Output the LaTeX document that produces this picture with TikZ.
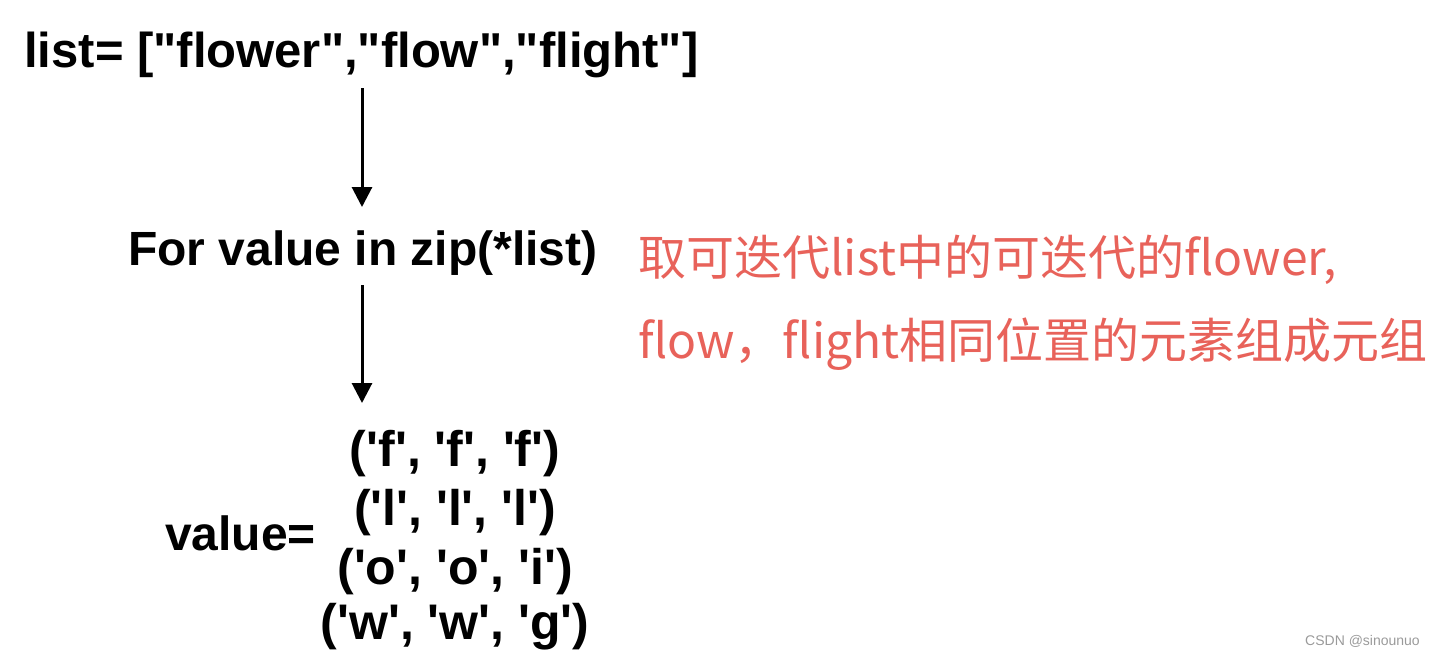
\documentclass[tikz,border=0pt]{standalone}
\usepackage{fontspec}
\setmainfont{Liberation Sans}[Ligatures=TeXOff]
\newfontfamily\cjk{Noto Sans CJK SC}
\usetikzlibrary{arrows.meta}
\definecolor{notered}{HTML}{E8625A}
\definecolor{wmgray}{HTML}{9A9A9A}
\newcommand{\dq}{\char34 }
\newcommand{\sq}{\char39 }
\tikzset{
  code/.style={inner sep=0pt, font=\fontsize{48}{58}\selectfont\bfseries, text=black},
  tuple/.style={code, anchor=base, font=\fontsize{50}{60}\selectfont\bfseries},
  note/.style={inner sep=0pt, anchor=base west, font=\cjk\fontsize{48}{58}\selectfont, text=notered},
  flow/.style={line width=3pt, -{Triangle[length=20pt,width=20pt]}},
}
\begin{document}
\begin{tikzpicture}[x=1pt,y=-1pt]
\useasboundingbox (0,0) rectangle (1434,656);
\node[code, anchor=base west, font=\fontsize{49}{58}\selectfont\bfseries] (lst) at (24,67) {list= [\dq flower\dq,\dq flow\dq,\dq flight\dq]};
\node[code, anchor=base west] (for) at (128,265) {For value in zip(*list)};
\node[code, anchor=base west] (val) at (165,550) {value=};
\node[tuple] (t1) at (455,466) {(\sq f\sq, \sq f\sq, \sq f\sq)};
\node[tuple] (t2) at (455,525) {(\sq l\sq, \sq l\sq, \sq l\sq)};
\node[tuple] (t3) at (455,584) {(\sq o\sq, \sq o\sq, \sq i\sq)};
\node[tuple] (t4) at (455,639) {(\sq w\sq, \sq w\sq, \sq g\sq)};
\coordinate (a1s) at (362,88);
\coordinate (a1e) at (362,207);
\coordinate (a2s) at (362,285);
\coordinate (a2e) at (362,403);
\draw[flow] (a1s) -- (a1e);
\draw[flow] (a2s) -- (a2e);
\node[note] (n1) at (638,275) {取可迭代list中的可迭代的flower,};
\node[note] (n2) at (638,358) {flow，flight相同位置的元素组成元组};
\node[inner sep=0pt, anchor=base east, font=\fontsize{14}{16}\selectfont, text=wmgray] (wm) at (1420,645) {CSDN @sinounuo};
\end{tikzpicture}
\end{document}
